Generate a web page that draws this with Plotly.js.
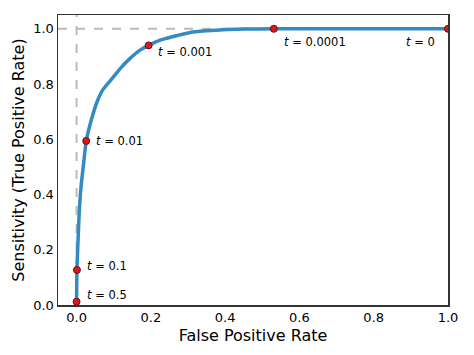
<!DOCTYPE html>
<html>
<head>
<meta charset="utf-8">
<script src="https://cdn.plot.ly/plotly-3.0.1.min.js"></script>
<style>html,body{margin:0;padding:0;background:#fff;}#chart{width:474px;height:355px;}</style>
</head>
<body>
<div id="chart"></div>
<script>
// ROC curve values
const fpr = [0, 0, 0.001, 0.004, 0.007, 0.012, 0.019, 0.026, 0.041, 0.055, 0.07, 0.091, 0.118, 0.144, 0.171, 0.194, 0.225, 0.26, 0.306, 0.351, 0.395, 0.45, 0.531, 0.7, 1.0];
const tpr = [0, 0.012, 0.127, 0.235, 0.332, 0.428, 0.513, 0.594, 0.676, 0.735, 0.778, 0.812, 0.857, 0.893, 0.923, 0.94, 0.959, 0.972, 0.987, 0.993, 0.997, 0.999, 1.0, 1.0, 1.0];

// threshold markers
const thrLabels = ["0.5", "0.1", "0.01", "0.001", "0.0001", "0"];
const thrFpr = [0, 0.001, 0.026, 0.194, 0.531, 1.0];
const thrTpr = [0.012, 0.127, 0.594, 0.94, 1.0, 1.0];

const xTicks = [0, 0.2, 0.4, 0.6, 0.8, 1.0];
const yTicks = [0, 0.2, 0.4, 0.6, 0.8, 1.0];

const FONT = "DejaVu Sans, sans-serif";

// label offsets (pixels) per marker: [xshift, yshift, xanchor]
const offs = [[8, 7, "left"], [8, 4, "left"], [8, 0, "left"], [7, -7, "left"], [8, -13, "left"], [-11, -13, "right"]];

const traces = [
  {x: fpr, y: tpr, mode: "lines", line: {color: "#348bc4", width: 3.5, shape: "spline", smoothing: 0.6}, hoverinfo: "skip"},
  {x: thrFpr, y: thrTpr, mode: "markers",
   marker: {color: "#d7191c", size: 7, line: {color: "#6b1010", width: 1}}}
];

const annotations = thrLabels.map((lab, i) => ({
  x: thrFpr[i], y: thrTpr[i], xref: "x", yref: "y",
  text: "<i>t</i> = " + lab, showarrow: false,
  xanchor: offs[i][2], yanchor: "middle",
  xshift: offs[i][0], yshift: offs[i][1],
  font: {family: FONT, size: 11.5, color: "#000"}
}));

const layout = {
  width: 474, height: 355,
  margin: {l: 58, r: 26, t: 15, b: 50},
  paper_bgcolor: "#fff", plot_bgcolor: "#fff",
  showlegend: false,
  font: {family: FONT, color: "#000"},
  xaxis: {
    range: [-0.05, 1.0], tickvals: xTicks, ticktext: xTicks.map(v => v.toFixed(1)),
    showgrid: false, zeroline: false, showline: true, mirror: true,
    linecolor: "#333", linewidth: 1.5, ticks: "", ticklen: 0,
    tickfont: {family: FONT, size: 13, color: "#000"},
    title: {text: "False Positive Rate", font: {family: FONT, size: 16, color: "#000"}, standoff: 5}
  },
  yaxis: {
    range: [0, 1.05], tickvals: yTicks, ticktext: yTicks.map(v => v.toFixed(1)),
    showgrid: false, zeroline: false, showline: true, mirror: true,
    linecolor: "#333", linewidth: 1.5, ticks: "", ticklen: 0,
    tickfont: {family: FONT, size: 13, color: "#000"},
    title: {text: "Sensitivity (True Positive Rate)", font: {family: FONT, size: 16, color: "#000"}, standoff: 4}
  },
  shapes: [
    {type: "line", xref: "x", yref: "paper", x0: 0, x1: 0, y0: 0, y1: 1, layer: "below",
     line: {color: "#bbbbbb", width: 2, dash: "dash"}},
    {type: "line", xref: "paper", yref: "y", x0: 0, x1: 1, y0: 1, y1: 1, layer: "below",
     line: {color: "#bbbbbb", width: 2, dash: "dash"}}
  ],
  annotations: annotations
};

Plotly.newPlot("chart", traces, layout, {displayModeBar: false, staticPlot: true});
</script>
</body>
</html>
